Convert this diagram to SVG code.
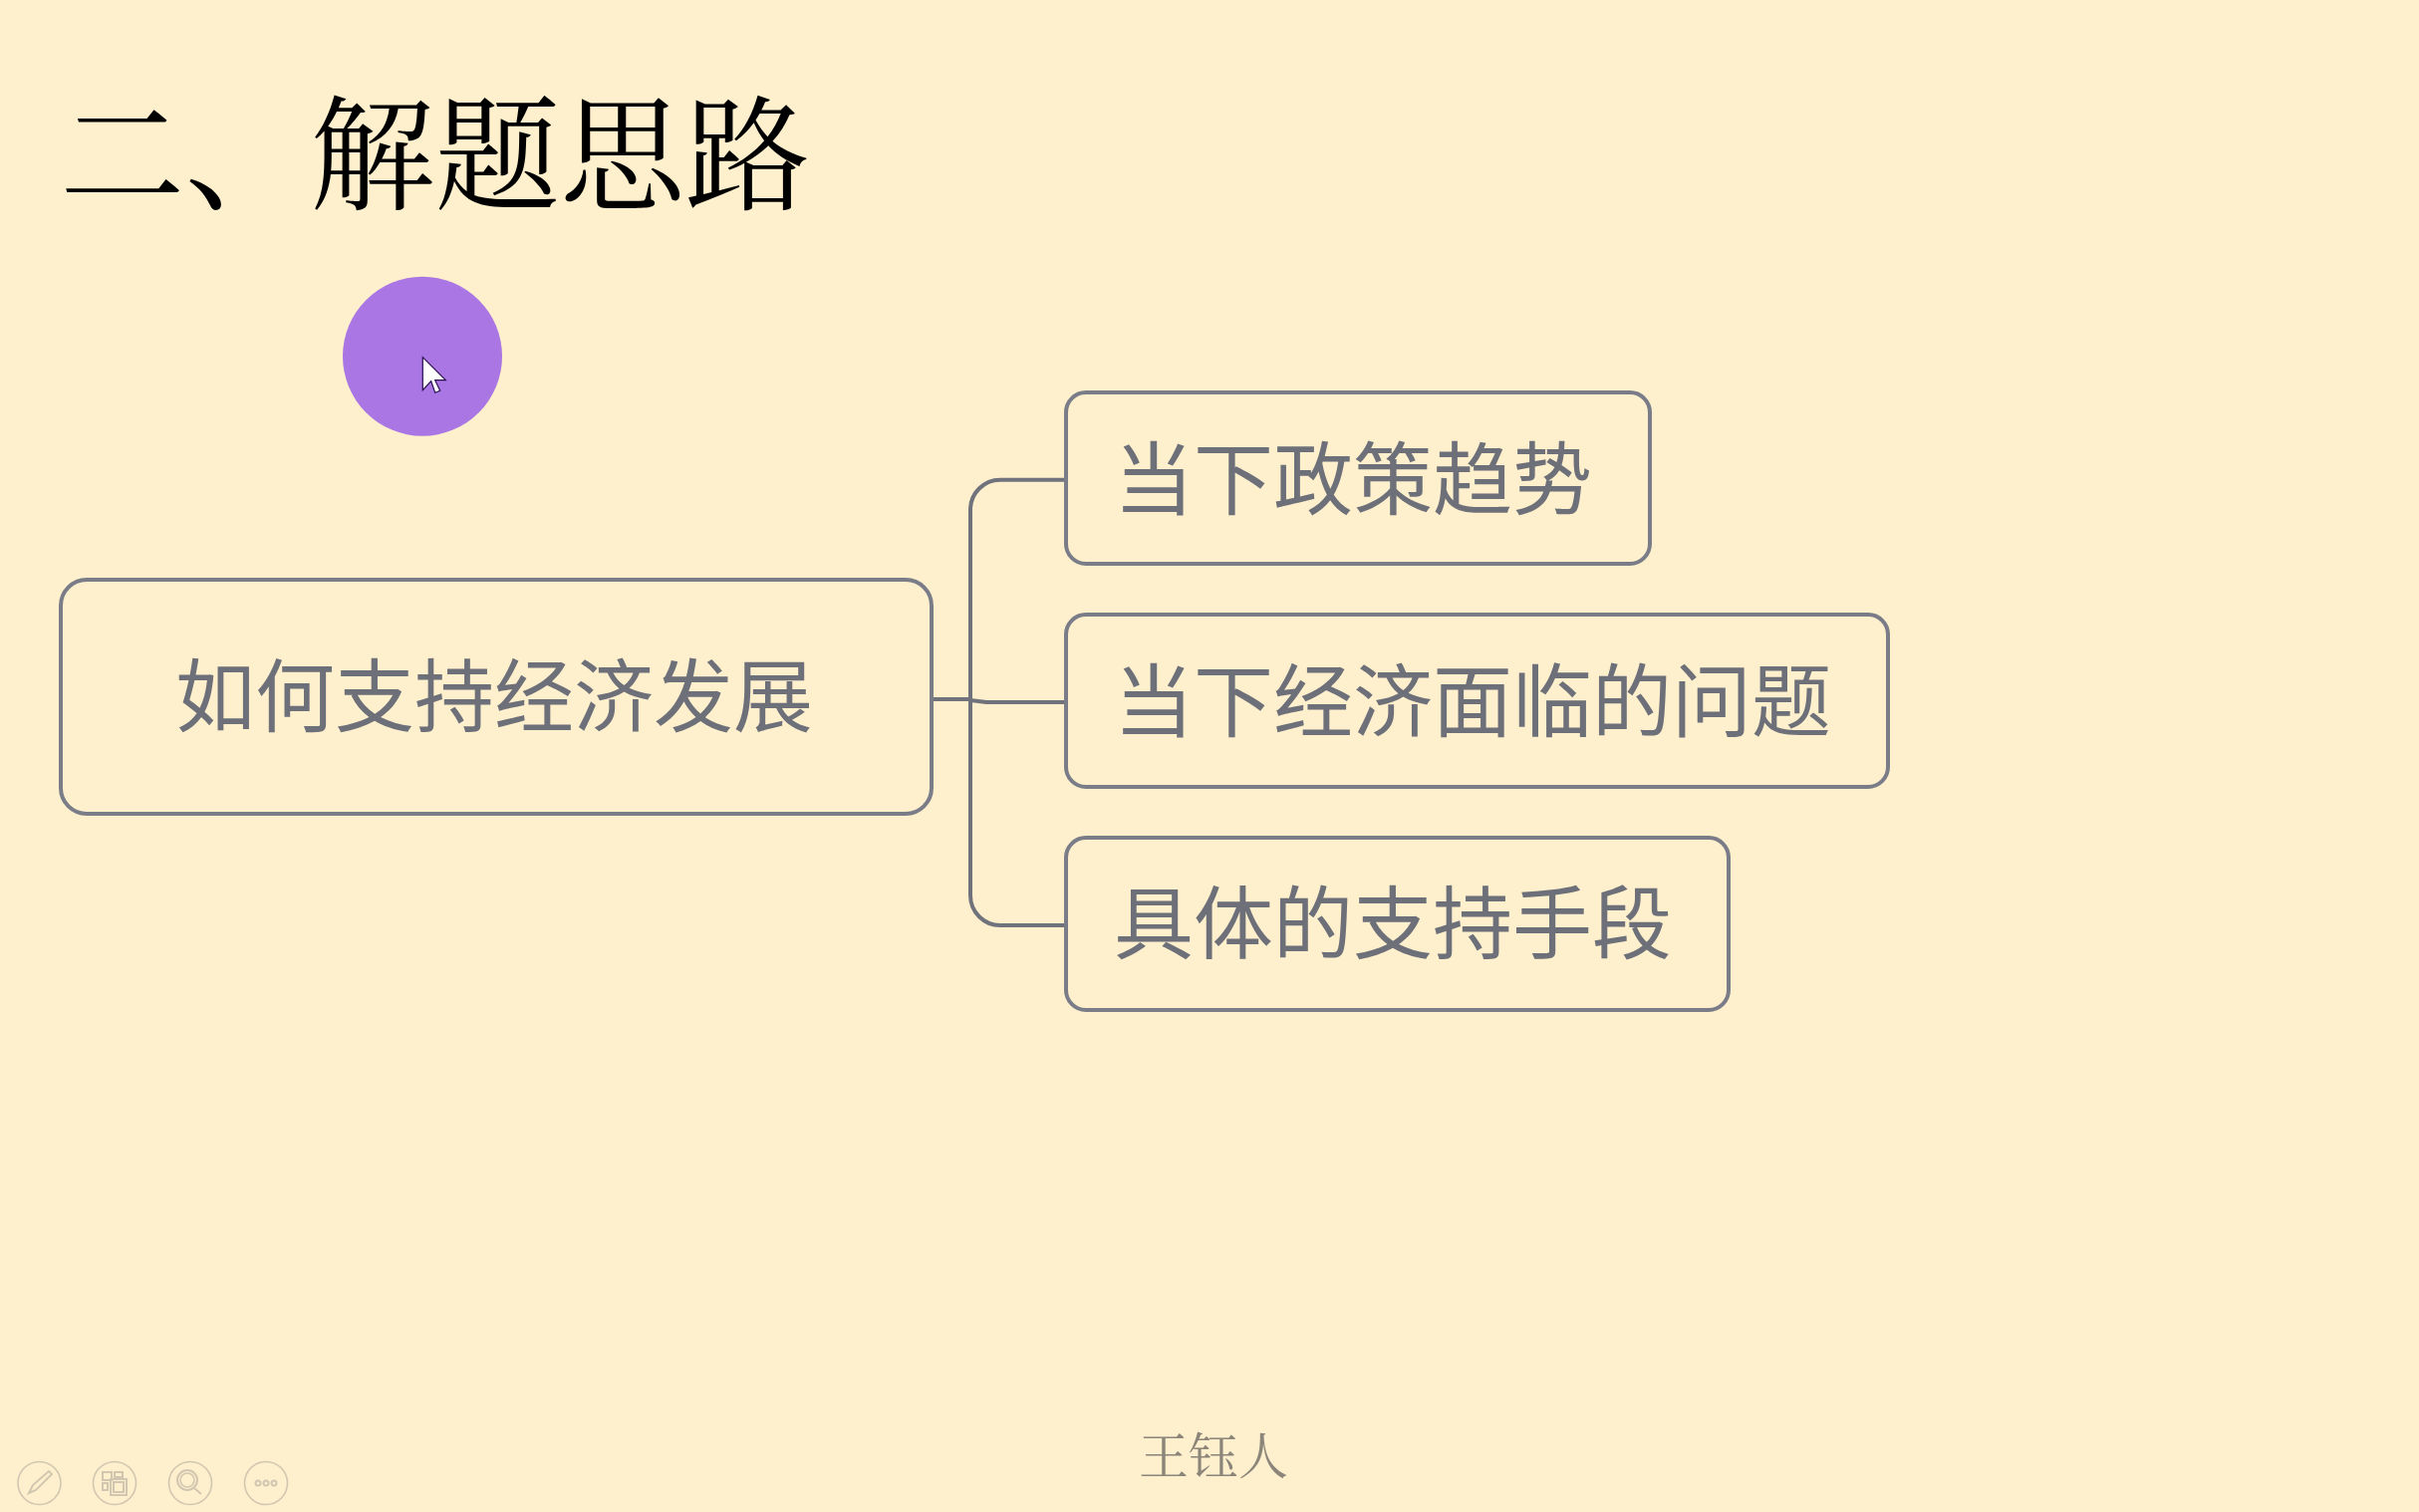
<svg xmlns="http://www.w3.org/2000/svg" width="2428" height="1518" viewBox="0 0 2428 1518">
<style>
text{font-family:"Noto Sans CJK SC","Liberation Sans",sans-serif}
.box{fill:none;stroke:#7a7d88;stroke-width:4}
.lbl{font-size:80px;fill:#6e7079;font-weight:400}
.conn{fill:none;stroke:#70727c;stroke-width:4}
.ic{fill:none;stroke:#d1c7b0;stroke-width:1.6}
.ig{fill:none;stroke:#d1c7b0;stroke-width:2}
</style>
<rect width="2428" height="1518" fill="#FEF0CD"/>
<text id="title" x="60" y="201" font-size="125.5" fill="#000" style="font-family:'Noto Serif CJK SC','Liberation Serif','Noto Sans CJK SC',serif">二、解题思路</text>
<g id="pointer">
<circle cx="424" cy="357.7" r="80" fill="#A976E3"/>
<path d="M424.3 358.7V391.7L432.7 382.7L436.7 394.3L441.7 392.3L436.7 381.7H447.3Z" fill="#fff" stroke="#2a1050" stroke-width="1.2"/>
</g>
<g id="connectors">
<path class="conn" d="M935 702H974"/>
<path class="conn" d="M974 703L990 705H1070"/>
<path class="conn" d="M1070 481.7H1004A30 30 0 0 0 974 511.7V899A30 30 0 0 0 1004 929H1070"/>
</g>
<g id="root"><rect class="box" x="61" y="582" width="874" height="235" rx="26"/><text class="lbl" x="176" y="728">如何支持经济发展</text></g>
<g id="node1"><rect class="box" x="1070" y="394" width="586" height="172" rx="20"/><text class="lbl" x="1118" y="510">当下政策趋势</text></g>
<g id="node2"><rect class="box" x="1070" y="617" width="825" height="173" rx="20"/><text class="lbl" x="1118" y="733">当下经济面临的问题</text></g>
<g id="node3"><rect class="box" x="1070" y="841" width="665" height="173" rx="20"/><text class="lbl" x="1118" y="956">具体的支持手段</text></g>
<text id="footer" x="1218" y="1480" font-size="50" fill="#8c857a" text-anchor="middle" style="font-family:'Noto Serif CJK SC','Liberation Serif','Noto Sans CJK SC',serif">王钰人</text>
<g id="toolbar">
<circle class="ic" cx="39.5" cy="1489" r="21.5"/>
<path class="ig" d="M29 1499L33 1491L49 1477L52 1480L36 1496Z"/>
<circle class="ic" cx="115" cy="1489" r="21.5"/>
<path class="ig" d="M103 1478H112V1486H103ZM115 1478H123V1483H115ZM103 1489H108V1496H103ZM111 1485H127V1501H111ZM114 1488H124V1498H114Z"/>
<circle class="ic" cx="191" cy="1489" r="21.5"/>
<circle class="ig" cx="188" cy="1486" r="10"/><circle class="ic" cx="188" cy="1486" r="7"/><path class="ig" stroke-width="3" d="M195 1494L202 1500"/>
<circle class="ic" cx="267" cy="1489" r="21.5"/>
<circle class="ig" cx="259" cy="1489" r="2.5"/><circle class="ig" cx="267" cy="1489" r="2.5"/><circle class="ig" cx="275" cy="1489" r="2.5"/>
</g>
</svg>
